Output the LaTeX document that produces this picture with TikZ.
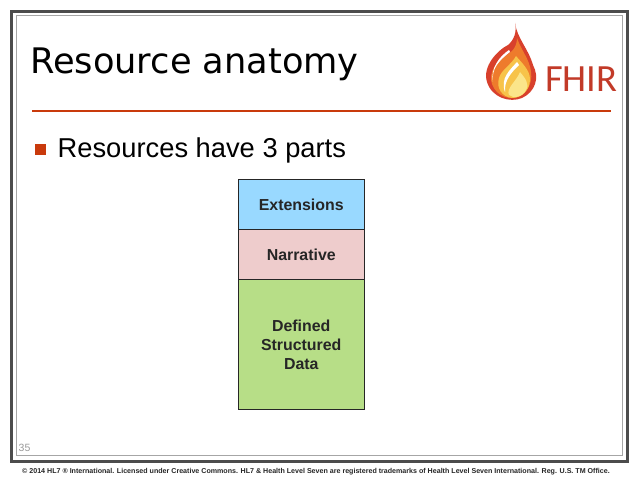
\documentclass[tikz,border=0pt]{standalone}
\usepackage{fontspec}
\setmainfont{Liberation Sans}
\newfontfamily\titlefont{DejaVu Sans}
\newfontfamily\logofont{Carlito}
\definecolor{rulered}{HTML}{C93A0C}
\definecolor{bxblue}{HTML}{99D9FF}
\definecolor{bxpink}{HTML}{EECCCC}
\definecolor{bxgreen}{HTML}{B7DE87}
\definecolor{fl1}{HTML}{D8402C}
\definecolor{fl2}{HTML}{EE7B2C}
\definecolor{fl3}{HTML}{F7C34A}
\definecolor{fl4}{HTML}{FBE58A}
\tikzset{
 stackbox/.style={draw=black!85,line width=0.5pt,minimum width=126pt,anchor=north west,inner sep=0pt,align=center,font=\fontsize{15.9}{19}\selectfont\bfseries,text=black!85,text depth=0pt},
 txtlabel/.style={anchor=base west,inner sep=0pt}
}
\begin{document}
\begin{tikzpicture}[x=1pt,y=-1pt]
\useasboundingbox (0,0) rectangle (638,478);
\fill[white] (0,0) rectangle (638,478);
\draw[draw=black!70,line width=3pt] (11,11.5) rectangle (627.5,461.5);
\draw[draw=black!35,line width=1pt] (16,16) rectangle (622,455.5);
\node[txtlabel,font=\titlefont\fontsize{35.2}{38}\selectfont] (title) at (30,73.5) {Resource anatomy};
\coordinate (ruleA) at (32,111);
\coordinate (ruleB) at (611,111);
\draw[rulered,line width=2pt] (ruleA) -- (ruleB);
\fill[rulered] (35,144) rectangle (46,155);
\node[txtlabel,font=\fontsize{27.3}{30}\selectfont] (body) at (57.5,158) {Resources have 3 parts};
\node[stackbox,fill=bxblue,minimum height=50pt] (ext) at (238,179) {};
\node[stackbox,fill=bxpink,minimum height=50pt] (nar) at (238,229) {};
\node[stackbox,fill=bxgreen,minimum height=130pt] (dat) at (238,279) {};
\node[font=\fontsize{15.9}{19}\selectfont\bfseries,text=black!85,inner sep=0pt] at ([yshift=-0.8pt]ext.center) {Extensions};
\node[font=\fontsize{15.9}{19}\selectfont\bfseries,text=black!85,inner sep=0pt] at ([yshift=-0.8pt]nar.center) {Narrative};
\node[font=\fontsize{15.9}{19}\selectfont\bfseries,text=black!85,inner sep=0pt,align=center] at ([yshift=-0.8pt]dat.center) {Defined\\Structured\\Data};
\node[txtlabel,font=\fontsize{10.5}{12}\selectfont,text=black!40] (num) at (18.5,452) {35};
\node[txtlabel,font=\fontsize{7.1}{9}\selectfont\bfseries,text=black!85] (foot) at (22,474) {© 2014 HL7 ® International. Licensed under Creative Commons. HL7 \& Health Level Seven are registered trademarks of Health Level Seven International. Reg. U.S. TM Office.};
% logo flame
\fill[fl1] (515,23) .. controls (517,38) and (529,50) .. (533,65) .. controls (540,78) and (535,92) .. (522,98) .. controls (510,103) and (492,98) .. (487,82) .. controls (482,66) and (498,50) .. (508,45) .. controls (514,40) and (517,32) .. (515,23) -- cycle;
\fill[fl2] (517,38) .. controls (521,50) and (530,60) .. (531,72) .. controls (533,85) and (525,96) .. (514,98) .. controls (500,99) and (490,88) .. (491,76) .. controls (493,62) and (507,56) .. (513,50) .. controls (516,46) and (517,42) .. (517,38) -- cycle;
\fill[white] (509,50) .. controls (500,56) and (490,68) .. (493,82) .. controls (491,68) and (500,60) .. (510,52) -- cycle;
\fill[fl3] (516,56) .. controls (521,62) and (530,70) .. (530,79) .. controls (530,90) and (522,98) .. (512,98) .. controls (502,97) and (496,88) .. (499,78) .. controls (501,70) and (512,64) .. (516,56) -- cycle;
\fill[white] (517,62) .. controls (510,70) and (500,78) .. (505,92) .. controls (504,80) and (512,72) .. (519,65) -- cycle;
\fill[fl4] (520,72) .. controls (525,78) and (530,84) .. (526,90) .. controls (523,97) and (513,99) .. (509,95) .. controls (506,88) and (516,82) .. (520,72) -- cycle;
\node[txtlabel,font=\logofont\fontsize{38.5}{42}\selectfont,text=fl1!90!black] (logo) at (545,92) {FHIR};
\end{tikzpicture}
\end{document}
